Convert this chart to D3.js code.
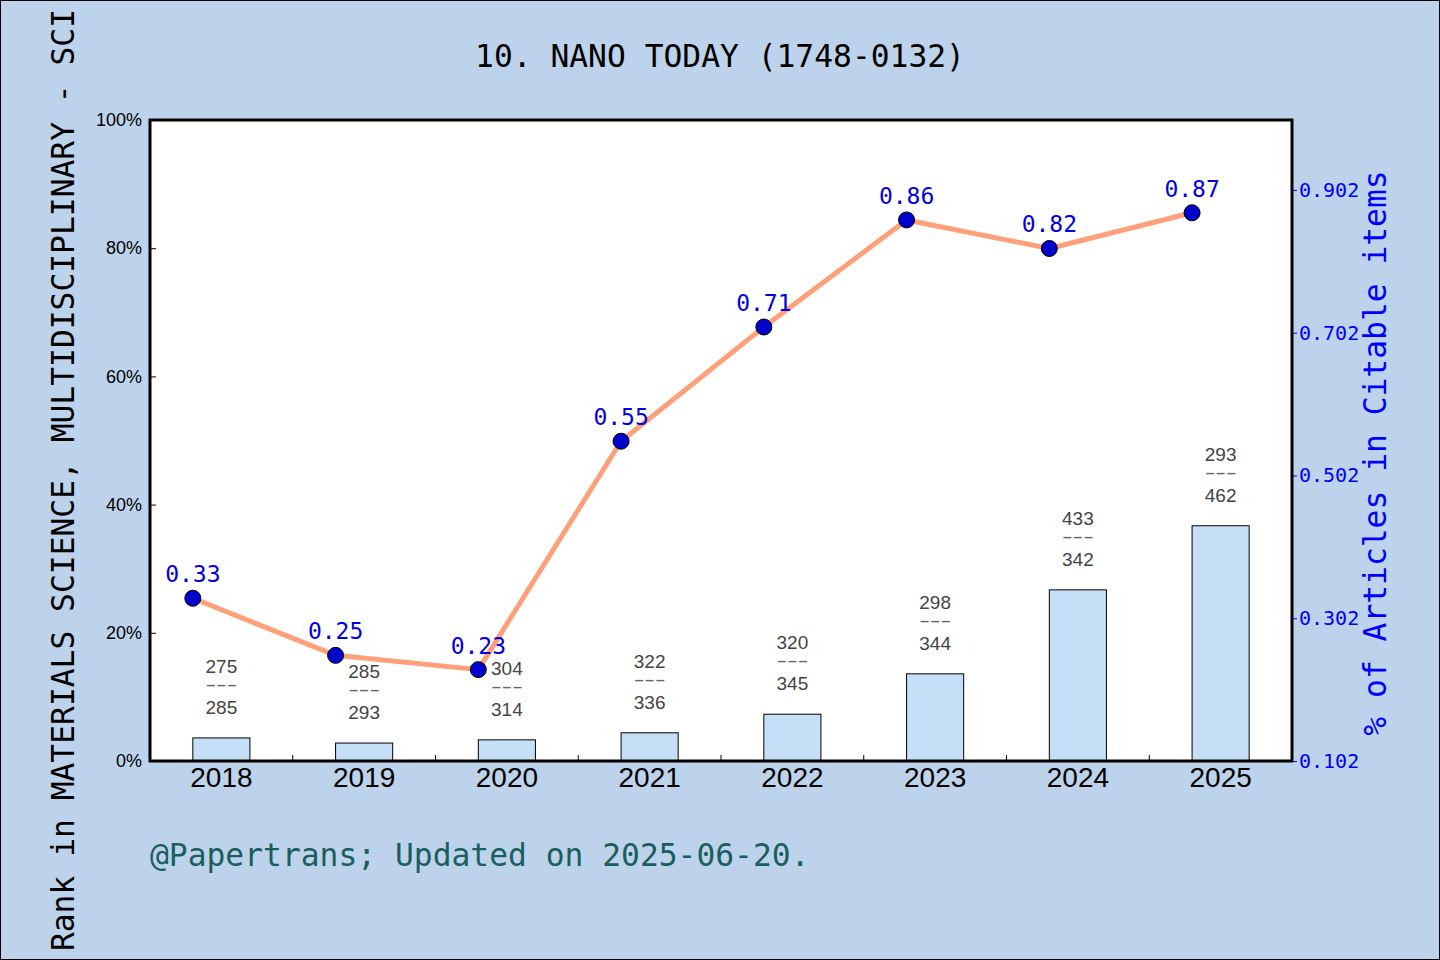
<!DOCTYPE html>
<html lang="en">
<head>
    <meta charset="UTF-8">
    <title>Nano Today rank chart</title>
    <script src="https://d3js.org/d3.v7.min.js"></script>
    <style>
        html, body { margin: 0; padding: 0; background: #fff; }
        svg { display: block; }
    </style>
</head>
<body>
    <svg id="chart"></svg>

    <script>
        // data
        const years = ["2018", "2019", "2020", "2021", "2022", "2023", "2024", "2025"];
        const rankPercent = [3.6, 2.8, 3.3, 4.4, 7.3, 13.6, 26.7, 36.7];
        const countTop = [275, 285, 304, 322, 320, 298, 433, 293];
        const countBottom = [285, 293, 314, 336, 345, 344, 342, 462];
        const citableShare = [0.33, 0.25, 0.23, 0.55, 0.71, 0.86, 0.82, 0.87];
        const leftTicks = [0, 20, 40, 60, 80, 100];
        const rightTicks = [0.102, 0.302, 0.502, 0.702, 0.902];

        const width = 1440;
        const height = 960;
        const margin = {top: 120, right: 148, bottom: 199, left: 150};

        const mono = "'DejaVu Sans Mono', 'Liberation Mono', monospace";
        const sans = "'Liberation Sans', Arial, sans-serif";

        const svg = d3.select("#chart")
            .attr("width", width)
            .attr("height", height)
            .attr("viewBox", [0, 0, width, height]);

        svg.append("rect")
            .attr("x", 0.5).attr("y", 0.5)
            .attr("width", width - 1).attr("height", height - 1)
            .attr("fill", "#bdd3eb")
            .attr("stroke", "#000");

        const x = d3.scaleBand()
            .domain(years)
            .range([margin.left, width - margin.right]);

        const y = d3.scaleLinear()
            .domain([0, 100])
            .range([height - margin.bottom, margin.top]);

        const y2 = d3.scaleLinear()
            .domain([0.102, 1.0])
            .range([height - margin.bottom, margin.top]);

        const bw = x.bandwidth();
        const barLeft = d => x(d) + bw * 0.3;

        // plot area
        svg.append("rect")
            .attr("x", margin.left)
            .attr("y", margin.top)
            .attr("width", width - margin.left - margin.right)
            .attr("height", height - margin.top - margin.bottom)
            .attr("fill", "#fff");

        const rows = years.map((yr, i) => ({
            year: yr,
            pct: rankPercent[i],
            top: countTop[i],
            bottom: countBottom[i],
            share: citableShare[i]
        }));

        // bars
        svg.append("g")
            .selectAll("rect")
            .data(rows)
            .join("rect")
            .attr("x", d => barLeft(d.year))
            .attr("y", d => y(d.pct))
            .attr("width", bw * 0.4)
            .attr("height", d => y(0) - y(d.pct))
            .attr("fill", "#c5e0f6")
            .attr("stroke", "#000")
            .attr("stroke-width", 1);

        // count labels over bars (one text, three lines)
        const lab = svg.append("g")
            .selectAll("text")
            .data(rows)
            .join("text")
            .attr("text-anchor", "middle")
            .attr("font-family", sans)
            .attr("font-size", 19)
            .attr("fill", "#444");

        lab.append("tspan")
            .attr("x", d => x(d.year) + bw / 2)
            .attr("y", d => y(d.pct) - 65)
            .text(d => d.top);

        lab.append("tspan")
            .attr("x", d => x(d.year) + bw / 2)
            .attr("y", d => y(d.pct) - 47)
            .attr("fill", "#666")
            .attr("textLength", 32)
            .attr("lengthAdjust", "spacingAndGlyphs")
            .text("---");

        lab.append("tspan")
            .attr("x", d => x(d.year) + bw / 2)
            .attr("y", d => y(d.pct) - 24)
            .text(d => d.bottom);

        // line of citable share
        const line = d3.line()
            .x(d => barLeft(d.year))
            .y(d => y2(d.share));

        svg.append("path")
            .datum(rows)
            .attr("fill", "none")
            .attr("stroke", "#ffa07a")
            .attr("stroke-width", 5)
            .attr("stroke-linejoin", "round")
            .attr("d", line);

        svg.append("g")
            .selectAll("circle")
            .data(rows)
            .join("circle")
            .attr("cx", d => barLeft(d.year))
            .attr("cy", d => y2(d.share))
            .attr("r", 8)
            .attr("fill", "#0000cd")
            .attr("stroke", "#000")
            .attr("stroke-width", 1);

        svg.append("g")
            .selectAll("text")
            .data(rows)
            .join("text")
            .attr("x", d => barLeft(d.year))
            .attr("y", d => y2(d.share) - 16)
            .attr("text-anchor", "middle")
            .attr("font-family", mono)
            .attr("font-size", 23)
            .attr("fill", "#0000e6")
            .text(d => d.share.toFixed(2));

        // left axis
        const yAxis = svg.append("g")
            .attr("transform", `translate(${margin.left},0)`)
            .call(d3.axisRight(y)
                .tickValues(leftTicks)
                .tickSize(6)
                .tickFormat(d => d + "%"));
        yAxis.select(".domain").remove();
        yAxis.selectAll("text")
            .attr("x", -8)
            .attr("text-anchor", "end")
            .attr("font-family", sans)
            .attr("font-size", 18)
            .attr("fill", "#000");

        // right axis
        const y2Axis = svg.append("g")
            .attr("transform", `translate(${width - margin.right},0)`)
            .call(d3.axisRight(y2)
                .tickValues(rightTicks)
                .tickSize(5)
                .tickPadding(2)
                .tickFormat(d3.format(".3f")));
        y2Axis.select(".domain").remove();
        y2Axis.selectAll("line").attr("stroke", "#0000ff");
        y2Axis.selectAll("text")
            .attr("font-family", mono)
            .attr("font-size", 20)
            .attr("fill", "#0000ff");

        // bottom axis
        const xAxis = svg.append("g")
            .attr("transform", `translate(0,${height - margin.bottom})`)
            .call(d3.axisBottom(x).tickSize(0).tickPadding(6));
        xAxis.select(".domain").remove();
        xAxis.selectAll("text")
            .attr("dy", 20)
            .attr("font-family", sans)
            .attr("font-size", 28)
            .attr("fill", "#000");

        // small ticks between categories, pointing into the plot
        svg.append("g")
            .selectAll("line")
            .data(years.slice(1))
            .join("line")
            .attr("x1", d => x(d)).attr("x2", d => x(d))
            .attr("y1", y(0)).attr("y2", y(0) - 6)
            .attr("stroke", "#000");

        // frame
        svg.append("rect")
            .attr("x", margin.left)
            .attr("y", margin.top)
            .attr("width", width - margin.left - margin.right)
            .attr("height", height - margin.top - margin.bottom)
            .attr("fill", "none")
            .attr("stroke", "#000")
            .attr("stroke-width", 3);

        // titles
        svg.append("text")
            .attr("x", 720)
            .attr("y", 67)
            .attr("text-anchor", "middle")
            .attr("font-family", mono)
            .attr("font-size", 31.3)
            .attr("fill", "#000")
            .text("10. NANO TODAY (1748-0132)");

        svg.append("text")
            .attr("transform", "translate(74,480) rotate(-90)")
            .attr("text-anchor", "middle")
            .attr("font-family", mono)
            .attr("font-size", 31.3)
            .attr("fill", "#000")
            .text("Rank in MATERIALS SCIENCE, MULTIDISCIPLINARY - SCI");

        svg.append("text")
            .attr("transform", "translate(1386,453) rotate(-90)")
            .attr("text-anchor", "middle")
            .attr("font-family", mono)
            .attr("font-size", 31.3)
            .attr("fill", "#0000ff")
            .text("% of Articles in Citable items");

        svg.append("text")
            .attr("x", margin.left)
            .attr("y", 866)
            .attr("font-family", mono)
            .attr("font-size", 31.3)
            .attr("fill", "#1a5e5e")
            .text("@Papertrans; Updated on 2025-06-20.");
    </script>
</body>
</html>
